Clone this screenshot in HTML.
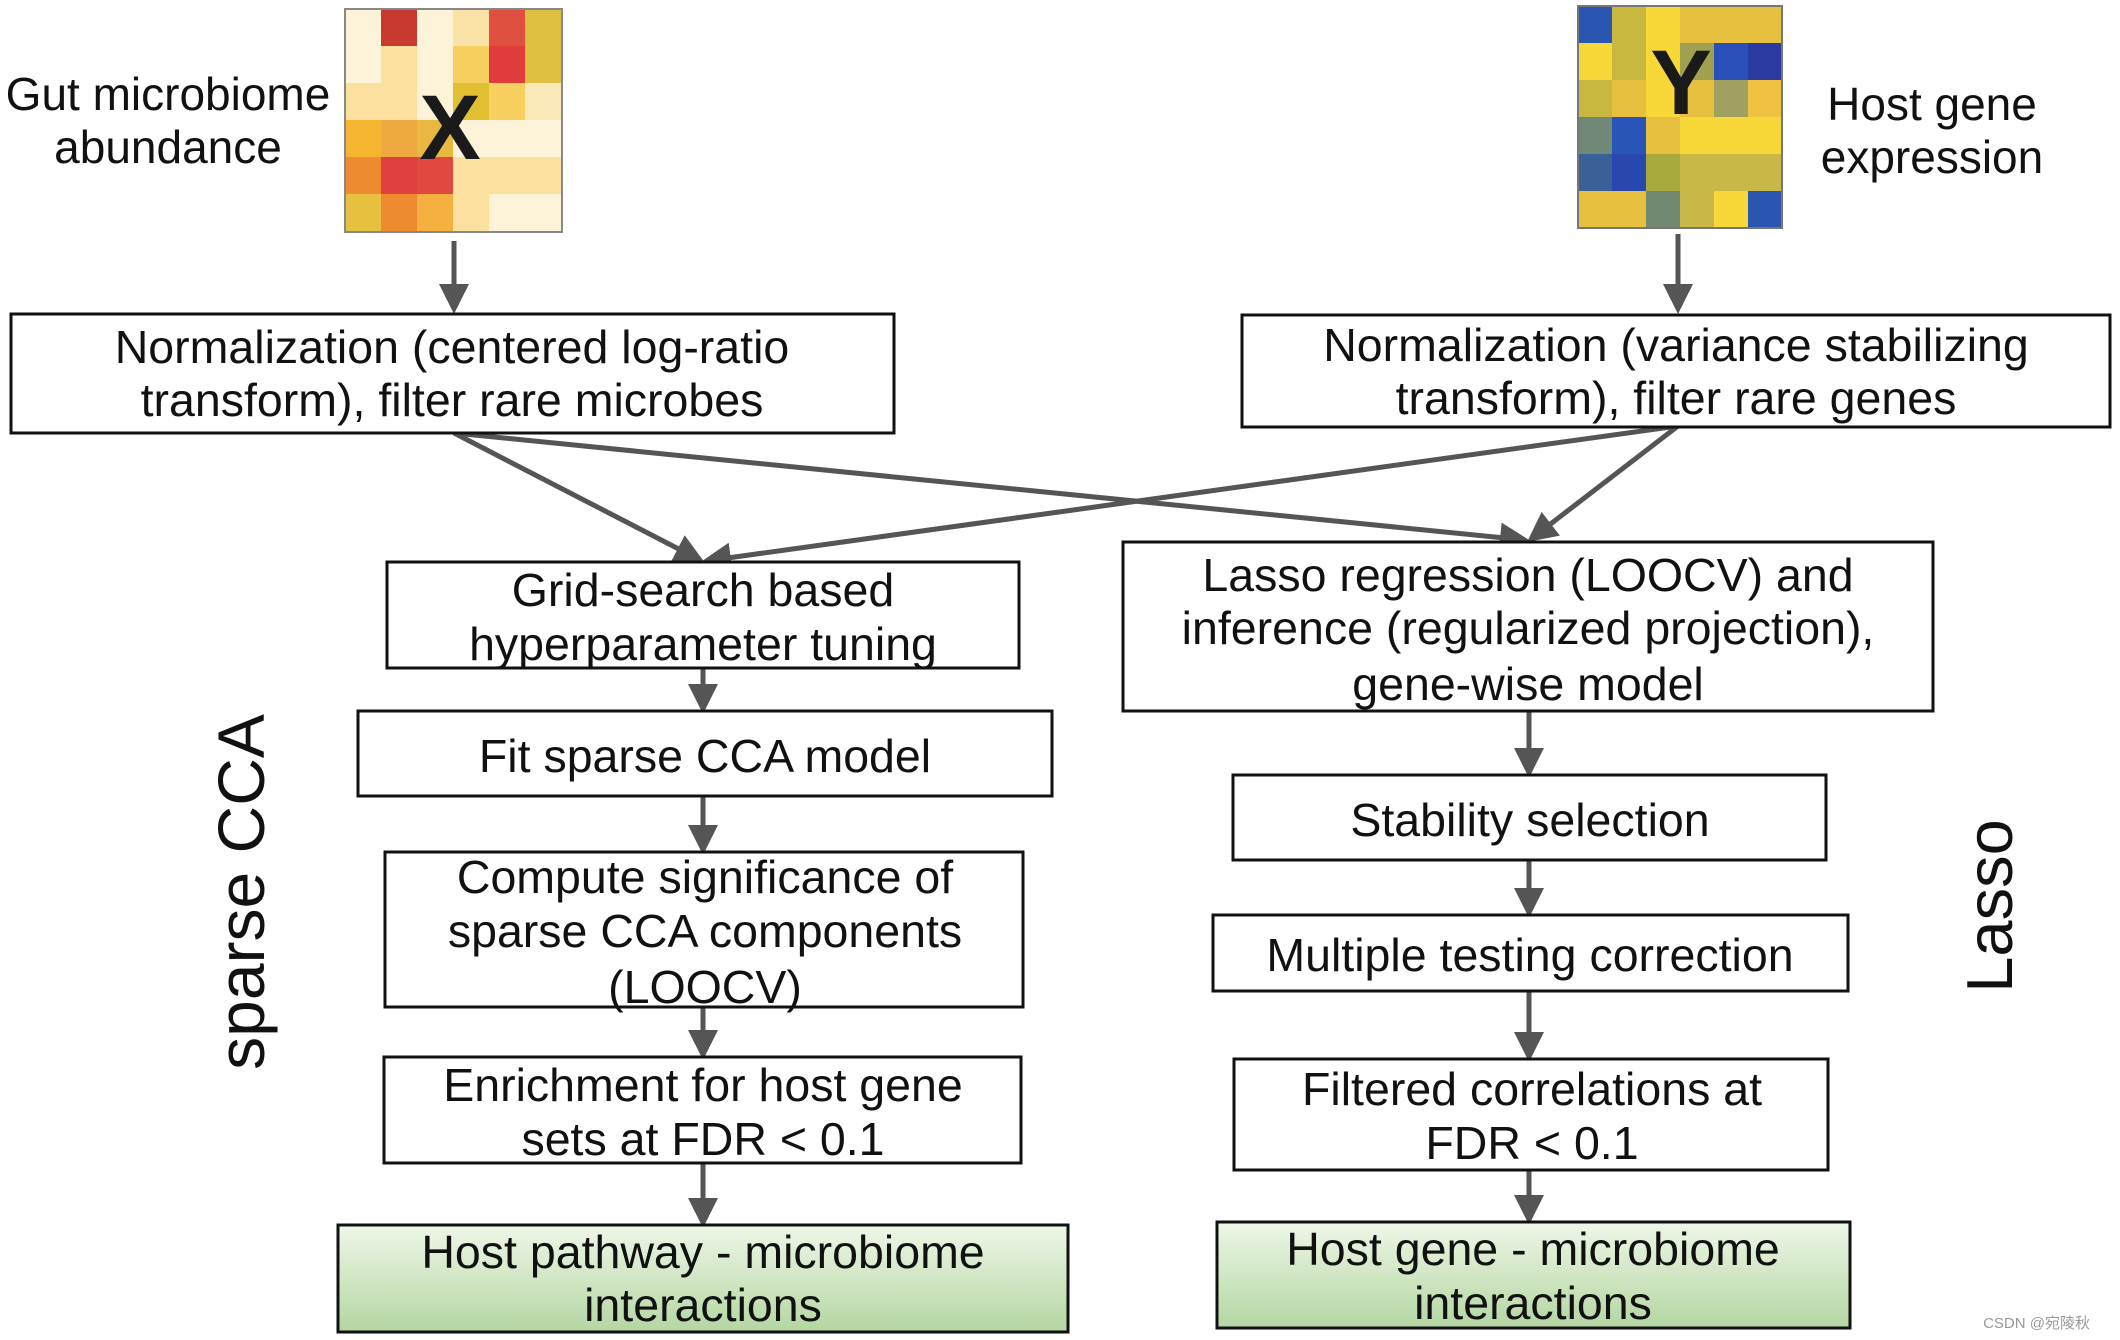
<!DOCTYPE html>
<html><head><meta charset="utf-8"><style>
html,body{margin:0;padding:0;background:#fff}
svg{display:block}
text{font-family:"Liberation Sans","Noto Sans CJK SC",sans-serif;fill:#111}
</style></head><body>
<svg width="2120" height="1340" viewBox="0 0 2120 1340" xmlns="http://www.w3.org/2000/svg">
<defs>
<marker id="ah" markerWidth="6" markerHeight="6" refX="5" refY="3" orient="auto" markerUnits="strokeWidth">
<path d="M0,0 L6,3 L0,6 z" fill="#555"/></marker>
<linearGradient id="gr" x1="0" y1="0" x2="0" y2="1"><stop offset="0" stop-color="#eef7e8"/><stop offset="1" stop-color="#b4d6a2"/></linearGradient>
</defs>
<!-- X heatmap -->
<g transform="translate(345,9)">
<rect x="0" y="0" width="36" height="37" fill="#fdf3d8"/><rect x="36" y="0" width="36" height="37" fill="#c83a30"/><rect x="72" y="0" width="36" height="37" fill="#fdf3d8"/><rect x="108" y="0" width="36" height="37" fill="#fbe3a8"/><rect x="144" y="0" width="36" height="37" fill="#e05040"/><rect x="180" y="0" width="37" height="37" fill="#e0c040"/>
<rect x="0" y="37" width="36" height="37" fill="#fdf3d8"/><rect x="36" y="37" width="36" height="37" fill="#fbe0a0"/><rect x="72" y="37" width="36" height="37" fill="#fdf3d8"/><rect x="108" y="37" width="36" height="37" fill="#f8d060"/><rect x="144" y="37" width="36" height="37" fill="#e03c3c"/><rect x="180" y="37" width="37" height="37" fill="#e0c040"/>
<rect x="0" y="74" width="36" height="37" fill="#fbe0a0"/><rect x="36" y="74" width="36" height="37" fill="#fbe0a0"/><rect x="72" y="74" width="36" height="37" fill="#fdf3d8"/><rect x="108" y="74" width="36" height="37" fill="#e0c030"/><rect x="144" y="74" width="36" height="37" fill="#f8d060"/><rect x="180" y="74" width="37" height="37" fill="#fbe8b8"/>
<rect x="0" y="111" width="36" height="37" fill="#f5b530"/><rect x="36" y="111" width="36" height="37" fill="#eeaa40"/><rect x="72" y="111" width="36" height="37" fill="#e8b840"/><rect x="108" y="111" width="36" height="37" fill="#fdf3d8"/><rect x="144" y="111" width="36" height="37" fill="#fdf3d8"/><rect x="180" y="111" width="37" height="37" fill="#fdf3d8"/>
<rect x="0" y="148" width="36" height="37" fill="#ee8a30"/><rect x="36" y="148" width="36" height="37" fill="#e04040"/><rect x="72" y="148" width="36" height="37" fill="#e04840"/><rect x="108" y="148" width="36" height="37" fill="#fbe0a0"/><rect x="144" y="148" width="36" height="37" fill="#fbe0a0"/><rect x="180" y="148" width="37" height="37" fill="#fbe0a0"/>
<rect x="0" y="185" width="36" height="38" fill="#e8c040"/><rect x="36" y="185" width="36" height="38" fill="#ee8a30"/><rect x="72" y="185" width="36" height="38" fill="#f5b040"/><rect x="108" y="185" width="36" height="38" fill="#fbe0a0"/><rect x="144" y="185" width="36" height="38" fill="#fdf3d8"/><rect x="180" y="185" width="37" height="38" fill="#fdf3d8"/>
<rect x="0" y="0" width="217" height="223" fill="none" stroke="#888" stroke-width="2"/>
<text x="105" y="150" font-size="92" font-weight="bold" text-anchor="middle" style="fill:#1a1a1a">X</text>
</g>
<!-- Y heatmap -->
<g transform="translate(1578,6)">
<rect x="0" y="0" width="34" height="37" fill="#2a55b0"/><rect x="34" y="0" width="34" height="37" fill="#c8b840"/><rect x="68" y="0" width="34" height="37" fill="#f8d838"/><rect x="102" y="0" width="34" height="37" fill="#e8c040"/><rect x="136" y="0" width="34" height="37" fill="#e8c040"/><rect x="170" y="0" width="34" height="37" fill="#e8c040"/>
<rect x="0" y="37" width="34" height="37" fill="#f8d838"/><rect x="34" y="37" width="34" height="37" fill="#c8b840"/><rect x="68" y="37" width="34" height="37" fill="#f8d838"/><rect x="102" y="37" width="34" height="37" fill="#a0a050"/><rect x="136" y="37" width="34" height="37" fill="#2850b8"/><rect x="170" y="37" width="34" height="37" fill="#2a3aa0"/>
<rect x="0" y="74" width="34" height="37" fill="#c8b840"/><rect x="34" y="74" width="34" height="37" fill="#e8c040"/><rect x="68" y="74" width="34" height="37" fill="#f8d838"/><rect x="102" y="74" width="34" height="37" fill="#e8c040"/><rect x="136" y="74" width="34" height="37" fill="#a0a060"/><rect x="170" y="74" width="34" height="37" fill="#f0c040"/>
<rect x="0" y="111" width="34" height="37" fill="#708878"/><rect x="34" y="111" width="34" height="37" fill="#2a55b8"/><rect x="68" y="111" width="34" height="37" fill="#e8c040"/><rect x="102" y="111" width="34" height="37" fill="#f8d838"/><rect x="136" y="111" width="34" height="37" fill="#f8d838"/><rect x="170" y="111" width="34" height="37" fill="#f8d838"/>
<rect x="0" y="148" width="34" height="37" fill="#3a6098"/><rect x="34" y="148" width="34" height="37" fill="#2848b0"/><rect x="68" y="148" width="34" height="37" fill="#a8aa40"/><rect x="102" y="148" width="34" height="37" fill="#c8b848"/><rect x="136" y="148" width="34" height="37" fill="#c8b848"/><rect x="170" y="148" width="34" height="37" fill="#c8b848"/>
<rect x="0" y="185" width="34" height="37" fill="#e8c040"/><rect x="34" y="185" width="34" height="37" fill="#e8c040"/><rect x="68" y="185" width="34" height="37" fill="#708870"/><rect x="102" y="185" width="34" height="37" fill="#c8b848"/><rect x="136" y="185" width="34" height="37" fill="#f8d838"/><rect x="170" y="185" width="34" height="37" fill="#2a55b0"/>
<rect x="0" y="0" width="204" height="222" fill="none" stroke="#777" stroke-width="2"/>
<text x="103" y="108" font-size="92" font-weight="bold" text-anchor="middle" style="fill:#1a1a1a">Y</text>
</g>
<text x="168" y="110" font-size="46" text-anchor="middle">Gut microbiome</text>
<text x="168" y="163" font-size="46" text-anchor="middle">abundance</text>
<text x="1932" y="120" font-size="46" text-anchor="middle">Host gene</text>
<text x="1932" y="173" font-size="46" text-anchor="middle">expression</text>
<text transform="translate(264,892) rotate(-90)" font-size="66" text-anchor="middle">sparse CCA</text>
<text transform="translate(2012,906) rotate(-90)" font-size="65" text-anchor="middle">Lasso</text>
<!-- arrows -->
<g stroke="#555" stroke-width="5" fill="none" marker-end="url(#ah)">
<line x1="454" y1="241" x2="454" y2="309"/>
<line x1="1678" y1="234" x2="1678" y2="309"/>
<line x1="454" y1="433" x2="700" y2="560"/>
<line x1="454" y1="433" x2="1525" y2="540"/>
<line x1="1678" y1="426" x2="706" y2="561"/>
<line x1="1678" y1="426" x2="1531" y2="539"/>
<line x1="703" y1="668" x2="703" y2="709"/>
<line x1="703" y1="796" x2="703" y2="850"/>
<line x1="703" y1="1007" x2="703" y2="1055"/>
<line x1="703" y1="1163" x2="703" y2="1223"/>
<line x1="1529" y1="711" x2="1529" y2="773"/>
<line x1="1529" y1="860" x2="1529" y2="913"/>
<line x1="1529" y1="991" x2="1529" y2="1057"/>
<line x1="1529" y1="1170" x2="1529" y2="1220"/>
</g>
<!-- boxes -->
<g fill="#fff" stroke="#111" stroke-width="3">
<rect x="11" y="314" width="883" height="119"/>
<rect x="1242" y="315" width="868" height="112"/>
<rect x="387" y="562" width="632" height="106"/>
<rect x="1123" y="542" width="810" height="169"/>
<rect x="358" y="711" width="694" height="85"/>
<rect x="385" y="852" width="638" height="155"/>
<rect x="384" y="1057" width="637" height="106"/>
<rect x="1233" y="775" width="593" height="85"/>
<rect x="1213" y="915" width="635" height="76"/>
<rect x="1234" y="1059" width="594" height="111"/>
<rect x="338" y="1225" width="730" height="107" fill="url(#gr)"/>
<rect x="1217" y="1222" width="633" height="106" fill="url(#gr)"/>
</g>
<g font-size="46.5" text-anchor="middle">
<text x="452" y="363">Normalization (centered log-ratio</text>
<text x="452" y="416">transform), filter rare microbes</text>
<text x="1676" y="361">Normalization (variance stabilizing</text>
<text x="1676" y="414">transform), filter rare genes</text>
<text x="703" y="606">Grid-search based</text>
<text x="703" y="660">hyperparameter tuning</text>
<text x="1528" y="591">Lasso regression (LOOCV) and</text>
<text x="1528" y="644">inference (regularized projection),</text>
<text x="1528" y="700">gene-wise model</text>
<text x="705" y="772">Fit sparse CCA model</text>
<text x="705" y="893">Compute significance of</text>
<text x="705" y="947">sparse CCA components</text>
<text x="705" y="1003">(LOOCV)</text>
<text x="703" y="1101">Enrichment for host gene</text>
<text x="703" y="1155">sets at FDR &lt; 0.1</text>
<text x="703" y="1268">Host pathway - microbiome</text>
<text x="703" y="1321">interactions</text>
<text x="1530" y="836">Stability selection</text>
<text x="1530" y="971">Multiple testing correction</text>
<text x="1532" y="1105">Filtered correlations at</text>
<text x="1532" y="1159">FDR &lt; 0.1</text>
<text x="1533" y="1265">Host gene - microbiome</text>
<text x="1533" y="1319">interactions</text>
</g>
<text x="2090" y="1328" font-size="15" text-anchor="end" style="fill:#999">CSDN @宛陵秋</text>
</svg>
</body></html>
